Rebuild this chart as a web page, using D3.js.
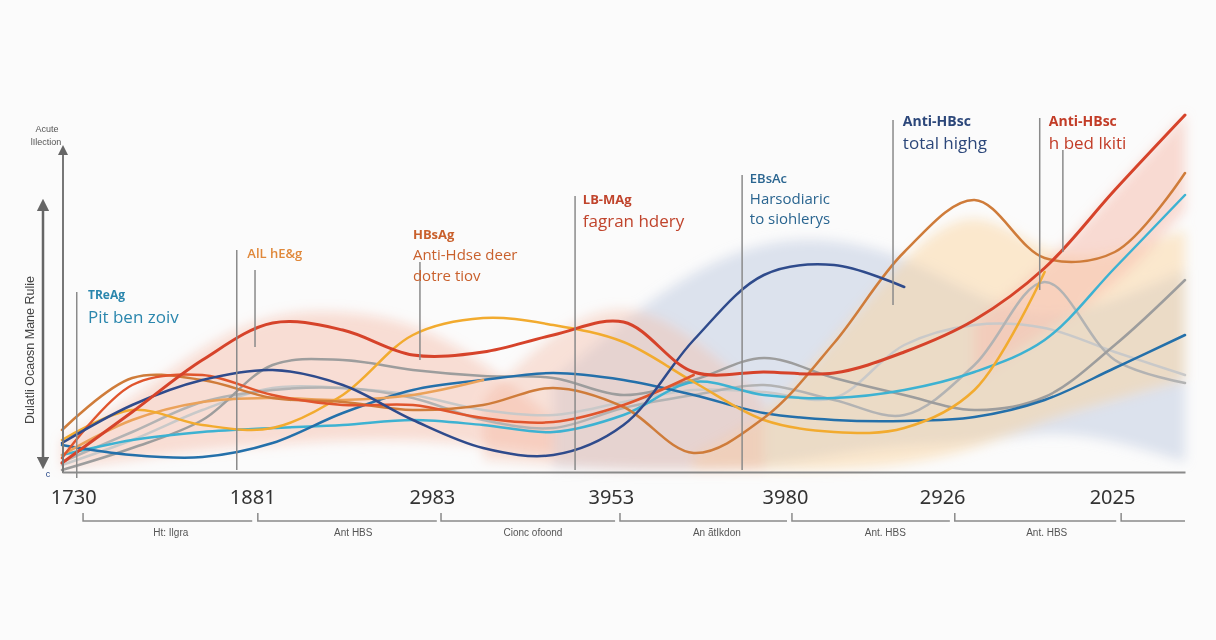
<!DOCTYPE html>
<head>
    <meta charset="utf-8">
    <script src="https://d3js.org/d3.v7.min.js"></script>
    <style>
        body { margin: 0; background: #fbfbfb; }
        svg { display: block; }
    </style>
</head>

<body>
    <script>
        const width = 1216;
        const height = 640;

        // positions along the time axis are 0..16, values 0..360
        const steps = d3.range(17);

        const redMain = [7, 58, 110, 147, 140, 115, 118, 135, 148, 98, 98, 97, 118, 150, 202, 280, 355];
        const red2 = [12, 85, 95, 75, 65, 65, 52, 48, 65, 95, null, null, null, null, null, null, null];
        const navy = [27, 65, 90, 100, 85, 50, 22, 15, 45, 130, 195, 205, 183, null, null, null, null];
        const blue = [25, 15, 13, 27, 57, 80, 90, 97, 90, 75, 57, 50, 49, 53, 70, 102, 135];
        const cyan = [15, 30, 38, 42, 45, 50, 45, 38, 55, 88, 75, 72, 80, 98, 130, 202, 275];
        const brown = [40, 92, 90, 72, 68, 60, 65, 82, 63, 17, 52, 127, 218, 270, 212, 218, 297];
        const yellow = [30, 60, 45, 42, 75, 135, 152, 145, 128, 88, 50, 38, 42, 80, 198, null, null];
        const orange2 = [15, 50, 68, 72, 70, 75, 90, null, null, null, null, null, null, null, null, null, null];
        const grayA = [0, 22, 50, 105, 110, 100, 94, 92, 75, 90, 112, 92, 75, 60, 73, 125, 190];
        const grayB = [8, 38, 68, 80, 82, 72, 50, 42, 62, 75, 85, 70, 55, 105, 188, 110, 87];
        const grayC = [5, 30, 60, 82, 82, 75, 60, 55, 68, 80, 78, 72, 125, 145, 142, 118, 95];

        // soft shaded bands: first step, upper and lower values
        const bandRose = { start: 0, hi: [30, 70, 125, 158, 160, 148, 110, 50], lo: [2, 10, 20, 25, 30, 30, 25, 15] };
        const bandSlate = { start: 7, hi: [90, 150, 200, 230, 232, 215, 175, 150, 170, 200], lo: [2, 0, 0, 2, 15, 25, 25, 40, 30, 8] };
        const bandSand = { start: 9, hi: [15, 50, 130, 215, 270, 212, 215, 240], lo: [0, 0, 0, 5, 20, 50, 70, 90] };
        const bandPink = { start: 13, hi: [148, 202, 280, 355], lo: [90, 140, 180, 260] };
        const bandSalmon = { start: 6, hi: [70, 140, 172, 135, 70], lo: [10, 5, 0, 0, 0] };

        const tickPos = [0.16, 2.71, 5.27, 7.82, 10.3, 12.54, 14.96];
        const tickLabels = ['1730', '1881', '2983', '3953', '3980', '2926', '2025'];

        const spans = [[0.3, 2.71], [2.79, 5.34], [5.4, 7.88], [7.95, 10.33], [10.4, 12.65], [12.72, 15.02], [15.09, 16]];
        const spanLabelPos = [1.55, 4.15, 6.71, 9.33, 11.73, 14.03];
        const spanLabels = ['Ht: Ilgra', 'Ant HBS', 'Cionc ofoond', 'An ãtIkdon', 'Ant. HBS', 'Ant. HBS'];

        // annotation leader lines: [t, from, to]
        const leaders = [[0.21, -8, 178], [2.49, 0, 220], [2.75, 123, 200], [5.10, 110, 208], [7.31, 0, 274],
            [9.69, 0, 295], [11.84, 165, 350], [13.93, 180, 352], [14.26, 218, 320]];

        // text, size, weight, distance to the next line
        const notes = [
            { t: 0.37, v: 171, color: '#2a86ad', lines: [['TReAg', 12, 700, 24], ['Pit ben zoiv', 17, 400]] },
            { t: 2.64, v: 212, color: '#e0883a', lines: [['AlL hE&g', 13, 600]] },
            { t: 5.0, v: 231, color: '#c9602c', lines: [['HBsAg', 13, 700, 21], ['Anti-Hdse deer', 15, 400, 21], ['dotre tiov', 15, 400]] },
            { t: 7.42, v: 266, color: '#c0442c', lines: [['LB-MAg', 13, 700, 23], ['fagran hdery', 17, 400]] },
            { t: 9.80, v: 287, color: '#2a6590', lines: [['EBsAc', 13, 600, 21], ['Harsodiaric', 15, 400, 20], ['to siohlerys', 15, 400]] },
            { t: 11.98, v: 344, color: '#2c477a', lines: [['Anti-HBsc', 14, 700, 23], ['total highg', 17, 400]] },
            { t: 14.06, v: 344, color: '#c23c27', lines: [['Anti-HBsc', 14, 700, 23], ['h bed lkiti', 17, 400]] }
        ];

        const x = d3.scaleLinear().domain([0, 16]).range([62, 1185]);
        const y = d3.scaleLinear().domain([0, 360]).range([470, 110]);

        const svg = d3.select('body').append('svg')
            .attr('width', width)
            .attr('height', height)
            .attr('viewBox', [0, 0, width, height]);

        const defs = svg.append('defs');
        defs.append('filter').attr('id', 'soft')
            .attr('x', '-20%').attr('y', '-20%').attr('width', '140%').attr('height', '140%')
            .append('feGaussianBlur').attr('stdDeviation', 6);
        defs.append('marker').attr('id', 'arrow')
            .attr('viewBox', '0 0 10 10').attr('refX', 5).attr('refY', 5)
            .attr('markerWidth', 5).attr('markerHeight', 5).attr('orient', 'auto-start-reverse')
            .append('path').attr('d', 'M0,0L10,5L0,10z').attr('fill', '#666');

        // bands
        const area = d3.area()
            .x(d => x(d.t)).y0(d => y(d.lo)).y1(d => y(d.hi))
            .curve(d3.curveBasis);

        const bands = [
            [bandSlate, '#c3cde2', 0.55],
            [bandSand, '#fbd6a0', 0.5],
            [bandSalmon, '#f5c0ae', 0.45],
            [bandRose, '#f4b29a', 0.4],
            [bandPink, '#f6c0b0', 0.55]
        ];

        svg.append('g').attr('filter', 'url(#soft)')
            .selectAll('path')
            .data(bands)
            .join('path')
            .attr('d', ([b]) => area(b.hi.map((hi, i) => ({ t: b.start + i, hi, lo: b.lo[i] }))))
            .attr('fill', d => d[1])
            .attr('opacity', d => d[2]);

        // lines
        const line = d3.line()
            .defined(d => d.v != null)
            .x(d => x(d.t)).y(d => y(d.v))
            .curve(d3.curveCatmullRom.alpha(0.5));

        const series = [
            [grayC, '#c9c9c9', 2.5],
            [grayB, '#b3b3b3', 2.5],
            [grayA, '#9d9d9d', 2.5],
            [cyan, '#3db2d2', 2.5],
            [blue, '#2470aa', 2.5],
            [orange2, '#eba25a', 2.5],
            [yellow, '#f2ab2f', 2.5],
            [brown, '#cf7c3a', 2.5],
            [red2, '#e0552d', 2.5],
            [navy, '#2f4b8c', 2.5],
            [redMain, '#d6432a', 3]
        ];

        svg.append('g')
            .selectAll('path')
            .data(series)
            .join('path')
            .attr('d', ([vals]) => line(steps.map(t => ({ t, v: vals[t] }))))
            .attr('fill', 'none')
            .attr('stroke', d => d[1])
            .attr('stroke-width', d => d[2])
            .attr('stroke-linecap', 'round');

        // leader lines
        svg.append('g')
            .selectAll('line')
            .data(leaders)
            .join('line')
            .attr('x1', d => x(d[0])).attr('x2', d => x(d[0]))
            .attr('y1', d => y(d[1])).attr('y2', d => y(d[2]))
            .attr('stroke', '#8a8a8a').attr('stroke-width', 1.5);

        // notes, one text per line
        notes.forEach(n => {
            let yy = y(n.v);
            n.lines.forEach(([txt, size, weight, next]) => {
                svg.append('text')
                    .attr('x', x(n.t))
                    .attr('y', yy)
                    .attr('font-family', '"Open Sans", "Noto Sans", sans-serif')
                    .attr('font-size', size)
                    .attr('font-weight', weight)
                    .attr('fill', n.color)
                    .text(txt);
                yy += next || 0;
            });
        });

        // axes
        svg.append('line')
            .attr('x1', x(0) + 1).attr('x2', x(0) + 1)
            .attr('y1', y(-3)).attr('y2', y(320))
            .attr('stroke', '#777').attr('stroke-width', 2)
            .attr('marker-end', 'url(#arrow)');

        svg.append('line')
            .attr('x1', 43).attr('x2', 43)
            .attr('y1', y(7)).attr('y2', y(265))
            .attr('stroke', '#666').attr('stroke-width', 2.5)
            .attr('marker-start', 'url(#arrow)')
            .attr('marker-end', 'url(#arrow)');

        const xAxis = svg.append('g')
            .attr('transform', `translate(0,${y(-2)})`)
            .call(d3.axisBottom(x)
                .tickValues(tickPos)
                .tickFormat((d, i) => tickLabels[i])
                .tickSize(0)
                .tickPadding(18));
        xAxis.select('.domain').attr('stroke', '#8a8a8a').attr('stroke-width', 2);
        xAxis.selectAll('text')
            .attr('font-family', '"Noto Sans", sans-serif')
            .attr('font-size', 20)
            .attr('fill', '#333');

        // brackets under the axis
        const br = svg.append('g').attr('stroke', '#8a8a8a').attr('stroke-width', 1.5).attr('fill', 'none');
        br.selectAll('path')
            .data(spans)
            .join('path')
            .attr('d', d => `M${x(d[0])},513V521H${x(d[1])}`);

        svg.append('g')
            .selectAll('text')
            .data(spanLabels)
            .join('text')
            .attr('x', (d, i) => x(spanLabelPos[i]))
            .attr('y', 536)
            .attr('text-anchor', 'middle')
            .attr('font-family', '"Liberation Sans", sans-serif')
            .attr('font-size', 10)
            .attr('fill', '#555')
            .text(d => d);

        // y labels
        svg.append('text')
            .attr('x', 47).attr('y', 132)
            .attr('text-anchor', 'middle')
            .attr('font-family', '"Liberation Sans", sans-serif')
            .attr('font-size', 9).attr('fill', '#555')
            .text('Acute');
        svg.append('text')
            .attr('x', 46).attr('y', 145)
            .attr('text-anchor', 'middle')
            .attr('font-family', '"Liberation Sans", sans-serif')
            .attr('font-size', 9).attr('fill', '#555')
            .text('lIlection');

        svg.append('text')
            .attr('transform', 'translate(34,350) rotate(-90)')
            .attr('text-anchor', 'middle')
            .attr('font-family', '"Liberation Sans", sans-serif')
            .attr('font-size', 12.5).attr('fill', '#444')
            .text('Dulatli Ocaosn Mane Rulie');

        svg.append('text')
            .attr('x', 48).attr('y', 477)
            .attr('text-anchor', 'middle')
            .attr('font-family', '"Liberation Sans", sans-serif')
            .attr('font-size', 9).attr('fill', '#2a4a8a')
            .text('c');
    </script>
</body>
